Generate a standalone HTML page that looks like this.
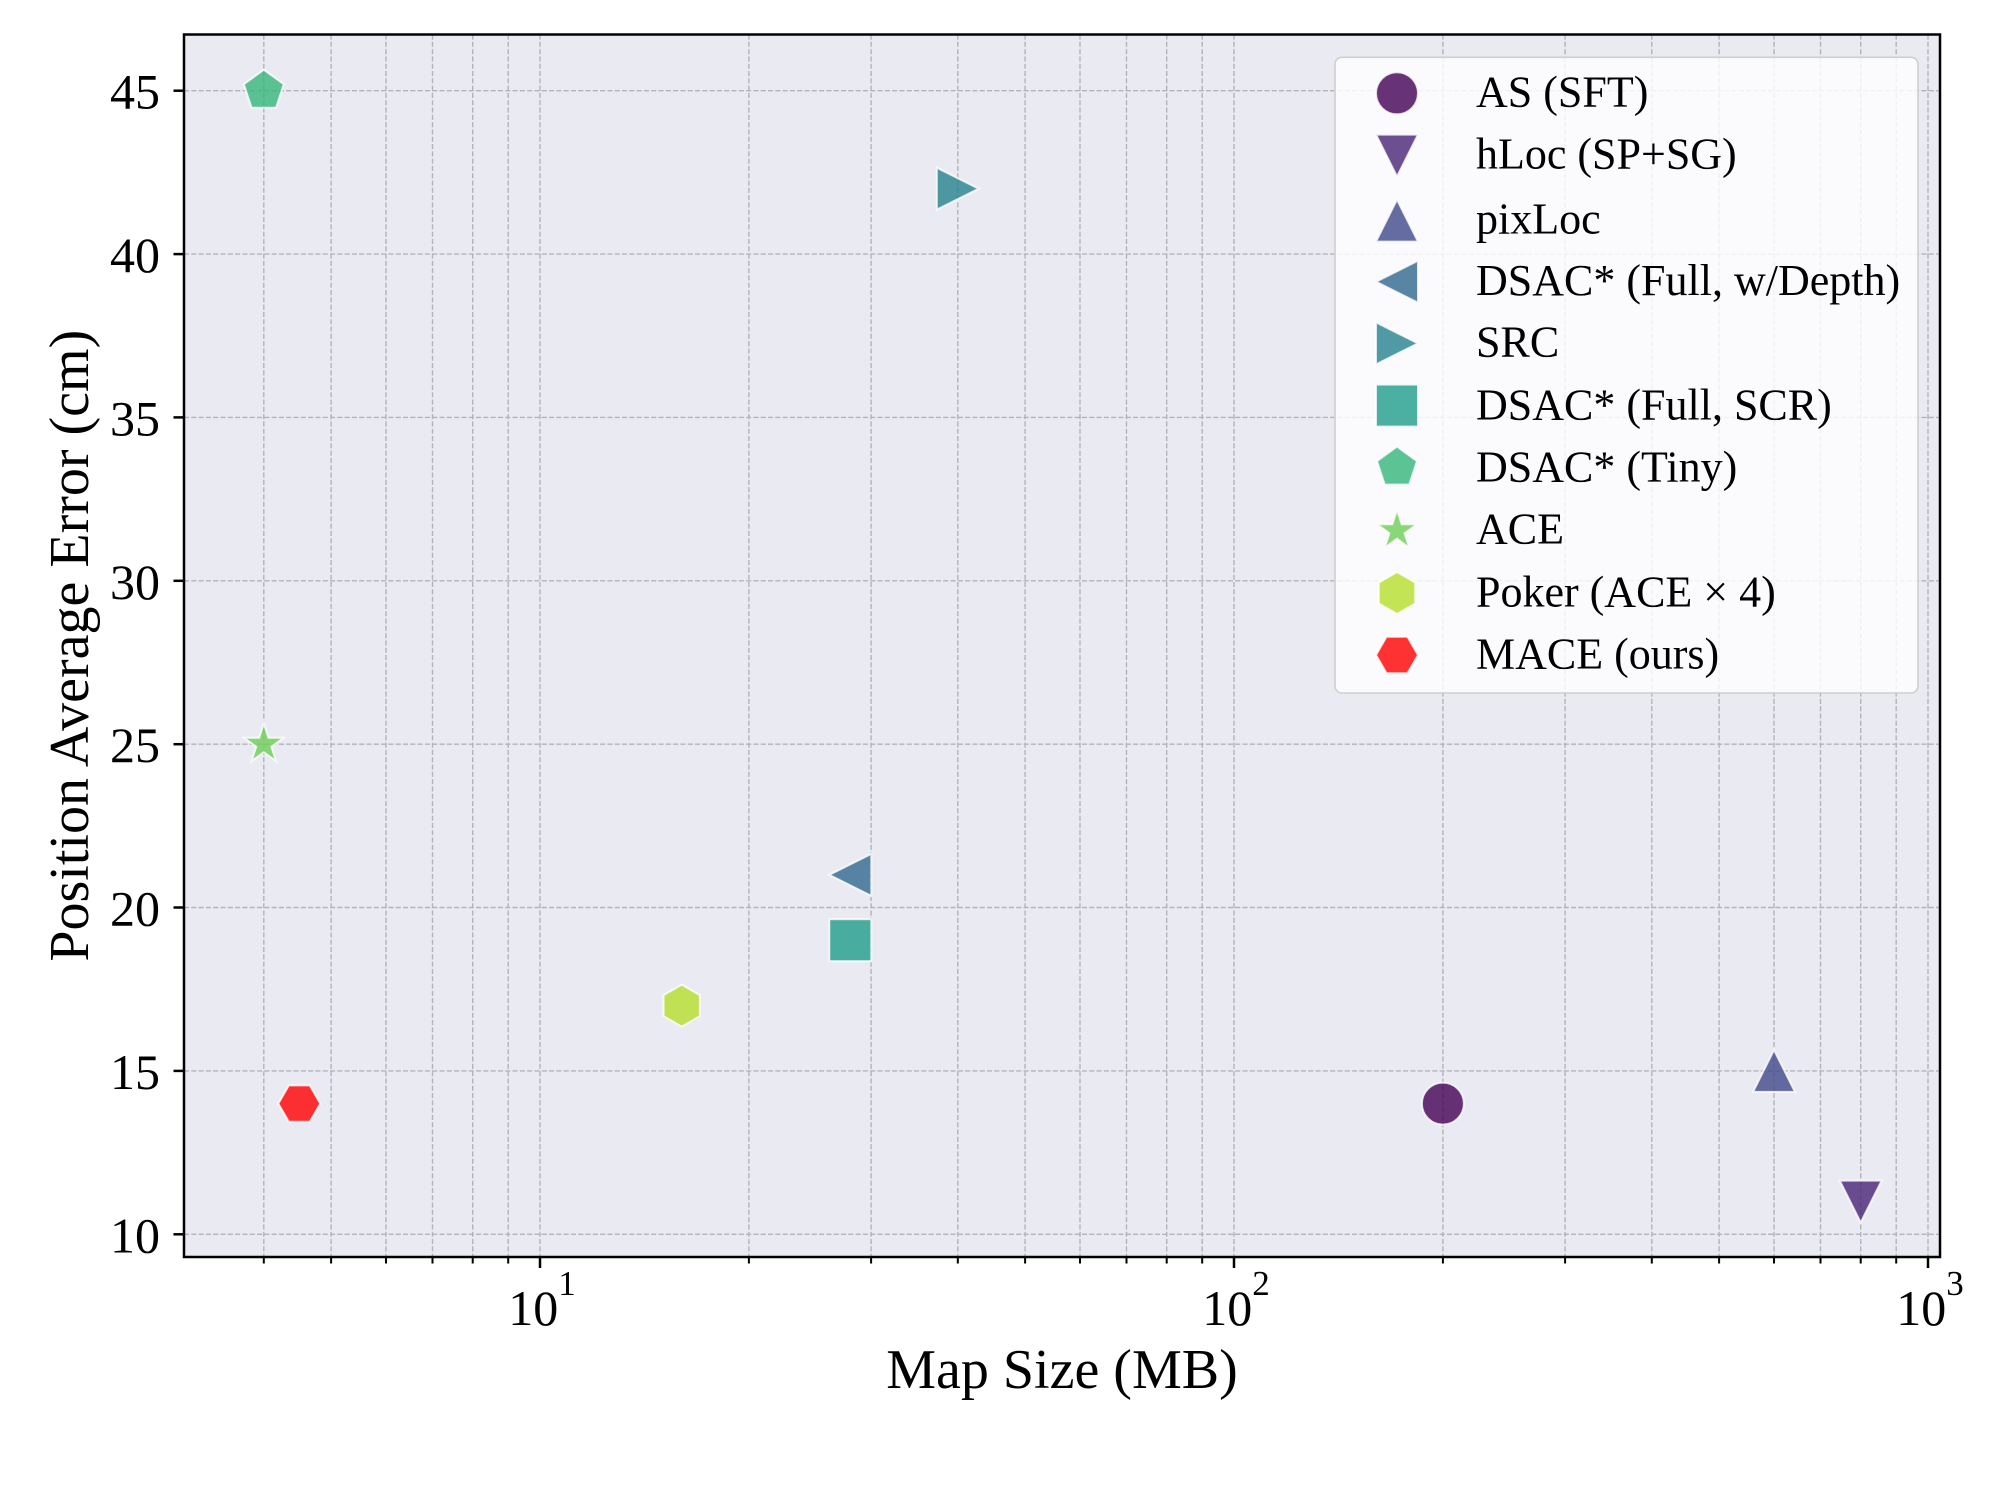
<!DOCTYPE html>
<html>
<head>
<meta charset="utf-8">
<style>
  html, body { margin: 0; padding: 0; background: #ffffff; }
  svg { display: block; }
  text { font-family: "Liberation Serif", "Times New Roman", serif; fill: #000; }
</style>
</head>
<body>
<svg width="2008" height="1508" viewBox="0 0 2008 1508" xmlns="http://www.w3.org/2000/svg">
  <rect x="0" y="0" width="2008" height="1508" fill="#ffffff"/>
  <!-- axes background -->
  <rect x="184" y="34.5" width="1756" height="1222.5" fill="#eaeaf2"/>

  <!-- grid -->
  <g stroke="#b3b3b9" stroke-width="1.4" stroke-dasharray="5.1,2.2" fill="none">
    <!-- horizontal -->
    <line x1="184" x2="1940" y1="90.7" y2="90.7"/>
    <line x1="184" x2="1940" y1="254.1" y2="254.1"/>
    <line x1="184" x2="1940" y1="417.4" y2="417.4"/>
    <line x1="184" x2="1940" y1="580.8" y2="580.8"/>
    <line x1="184" x2="1940" y1="744.2" y2="744.2"/>
    <line x1="184" x2="1940" y1="907.5" y2="907.5"/>
    <line x1="184" x2="1940" y1="1070.9" y2="1070.9"/>
    <line x1="184" x2="1940" y1="1234.3" y2="1234.3"/>
    <!-- vertical -->
    <line y1="34.5" y2="1257" x1="263.8" x2="263.8"/>
    <line y1="34.5" y2="1257" x1="331.1" x2="331.1"/>
    <line y1="34.5" y2="1257" x1="386.0" x2="386.0"/>
    <line y1="34.5" y2="1257" x1="432.5" x2="432.5"/>
    <line y1="34.5" y2="1257" x1="472.7" x2="472.7"/>
    <line y1="34.5" y2="1257" x1="508.2" x2="508.2"/>
    <line y1="34.5" y2="1257" x1="540" x2="540"/>
    <line y1="34.5" y2="1257" x1="748.9" x2="748.9"/>
    <line y1="34.5" y2="1257" x1="871.1" x2="871.1"/>
    <line y1="34.5" y2="1257" x1="957.8" x2="957.8"/>
    <line y1="34.5" y2="1257" x1="1025.1" x2="1025.1"/>
    <line y1="34.5" y2="1257" x1="1080.0" x2="1080.0"/>
    <line y1="34.5" y2="1257" x1="1126.5" x2="1126.5"/>
    <line y1="34.5" y2="1257" x1="1166.7" x2="1166.7"/>
    <line y1="34.5" y2="1257" x1="1202.2" x2="1202.2"/>
    <line y1="34.5" y2="1257" x1="1234" x2="1234"/>
    <line y1="34.5" y2="1257" x1="1442.9" x2="1442.9"/>
    <line y1="34.5" y2="1257" x1="1565.1" x2="1565.1"/>
    <line y1="34.5" y2="1257" x1="1651.8" x2="1651.8"/>
    <line y1="34.5" y2="1257" x1="1719.1" x2="1719.1"/>
    <line y1="34.5" y2="1257" x1="1774.0" x2="1774.0"/>
    <line y1="34.5" y2="1257" x1="1820.5" x2="1820.5"/>
    <line y1="34.5" y2="1257" x1="1860.7" x2="1860.7"/>
    <line y1="34.5" y2="1257" x1="1896.2" x2="1896.2"/>
    <line y1="34.5" y2="1257" x1="1928" x2="1928"/>
  </g>

  <!-- data markers -->
  <g stroke="#ffffff" stroke-width="2" stroke-opacity="0.8" fill-opacity="0.8">
    <!-- AS (SFT) circle (200,14) -->
    <circle cx="1442.9" cy="1103.6" r="21" fill="#440154"/>
    <!-- hLoc v (800,11) -->
    <polygon points="1839.7,1180.6 1881.7,1180.6 1860.7,1222.6" fill="#482475"/>
    <!-- pixLoc ^ (600,15) -->
    <polygon points="1774,1049.9 1753,1091.9 1795,1091.9" fill="#3e4989"/>
    <!-- DSAC depth < (28,21) -->
    <polygon points="829.3,874.9 871.3,853.9 871.3,895.9" fill="#31688e"/>
    <!-- SRC > (40,42) -->
    <polygon points="978.8,188.7 936.8,167.7 936.8,209.7" fill="#26828e"/>
    <!-- DSAC SCR square (28,19) -->
    <rect x="829.3" y="919.2" width="42" height="42" fill="#1f9e89"/>
    <!-- DSAC Tiny pentagon (4,45) -->
    <polygon points="263.8,69.7 283.8,84.2 276.1,107.7 251.5,107.7 243.8,84.2" fill="#35b779"/>
    <!-- ACE star (4,25) -->
    <polygon points="263.8,723.2 268.5,737.7 283.8,737.7 271.4,746.7 276.1,761.2 263.8,752.2 251.5,761.2 256.2,746.7 243.8,737.7 259.1,737.7" fill="#6ece58"/>
    <!-- Poker hexagon h (16,17) -->
    <polygon points="681.7,984.6 699.9,995.1 699.9,1016.1 681.7,1026.6 663.5,1016.1 663.5,995.1" fill="#b5de2b"/>
    <!-- MACE hexagon H (4.5,14) -->
    <polygon points="320.3,1103.6 309.8,1121.8 288.8,1121.8 278.3,1103.6 288.8,1085.4 309.8,1085.4" fill="#ff0000"/>
  </g>

  <!-- spines -->
  <rect x="184" y="34.5" width="1756" height="1222.5" fill="none" stroke="#000" stroke-width="2.5"/>

  <!-- y ticks -->
  <g stroke="#000" stroke-width="2.5">
    <line x1="173.5" x2="184" y1="90.7" y2="90.7"/>
    <line x1="173.5" x2="184" y1="254.1" y2="254.1"/>
    <line x1="173.5" x2="184" y1="417.4" y2="417.4"/>
    <line x1="173.5" x2="184" y1="580.8" y2="580.8"/>
    <line x1="173.5" x2="184" y1="744.2" y2="744.2"/>
    <line x1="173.5" x2="184" y1="907.5" y2="907.5"/>
    <line x1="173.5" x2="184" y1="1070.9" y2="1070.9"/>
    <line x1="173.5" x2="184" y1="1234.3" y2="1234.3"/>
  </g>
  <!-- x major ticks -->
  <g stroke="#000" stroke-width="2.5">
    <line x1="540" x2="540" y1="1257" y2="1268"/>
    <line x1="1234" x2="1234" y1="1257" y2="1268"/>
    <line x1="1928" x2="1928" y1="1257" y2="1268"/>
  </g>
  <!-- x minor ticks -->
  <g stroke="#000" stroke-width="2">
    <line x1="263.8" x2="263.8" y1="1257" y2="1263.5"/>
    <line x1="331.1" x2="331.1" y1="1257" y2="1263.5"/>
    <line x1="386.0" x2="386.0" y1="1257" y2="1263.5"/>
    <line x1="432.5" x2="432.5" y1="1257" y2="1263.5"/>
    <line x1="472.7" x2="472.7" y1="1257" y2="1263.5"/>
    <line x1="508.2" x2="508.2" y1="1257" y2="1263.5"/>
    <line x1="748.9" x2="748.9" y1="1257" y2="1263.5"/>
    <line x1="871.1" x2="871.1" y1="1257" y2="1263.5"/>
    <line x1="957.8" x2="957.8" y1="1257" y2="1263.5"/>
    <line x1="1025.1" x2="1025.1" y1="1257" y2="1263.5"/>
    <line x1="1080.0" x2="1080.0" y1="1257" y2="1263.5"/>
    <line x1="1126.5" x2="1126.5" y1="1257" y2="1263.5"/>
    <line x1="1166.7" x2="1166.7" y1="1257" y2="1263.5"/>
    <line x1="1202.2" x2="1202.2" y1="1257" y2="1263.5"/>
    <line x1="1442.9" x2="1442.9" y1="1257" y2="1263.5"/>
    <line x1="1565.1" x2="1565.1" y1="1257" y2="1263.5"/>
    <line x1="1651.8" x2="1651.8" y1="1257" y2="1263.5"/>
    <line x1="1719.1" x2="1719.1" y1="1257" y2="1263.5"/>
    <line x1="1774.0" x2="1774.0" y1="1257" y2="1263.5"/>
    <line x1="1820.5" x2="1820.5" y1="1257" y2="1263.5"/>
    <line x1="1860.7" x2="1860.7" y1="1257" y2="1263.5"/>
    <line x1="1896.2" x2="1896.2" y1="1257" y2="1263.5"/>
  </g>

  <!-- y tick labels -->
  <g font-size="50" text-anchor="end">
    <text x="160" y="108.7">45</text>
    <text x="160" y="272.1">40</text>
    <text x="160" y="435.4">35</text>
    <text x="160" y="598.8">30</text>
    <text x="160" y="762.2">25</text>
    <text x="160" y="925.5">20</text>
    <text x="160" y="1088.9">15</text>
    <text x="160" y="1252.3">10</text>
  </g>

  <!-- x tick labels -->
  <g font-size="50" text-anchor="middle">
    <text x="542" y="1325">10<tspan dy="-30" font-size="35">1</tspan></text>
    <text x="1236" y="1325">10<tspan dy="-30" font-size="35">2</tspan></text>
    <text x="1930" y="1325">10<tspan dy="-30" font-size="35">3</tspan></text>
  </g>

  <!-- axis labels -->
  <text x="1062" y="1388" font-size="56" text-anchor="middle">Map Size (MB)</text>
  <text transform="translate(88,645.7) rotate(-90)" x="0" y="0" font-size="56" text-anchor="middle">Position Average Error (cm)</text>

  <!-- legend -->
  <rect x="1335" y="57.3" width="583" height="635.7" rx="7" ry="7" fill="#ffffff" fill-opacity="0.8" stroke="#cfcfd2" stroke-width="1.6"/>
  <g stroke="#ffffff" stroke-width="2" stroke-opacity="0.8" fill-opacity="0.8">
    <circle cx="1397" cy="93.3" r="21" fill="#440154"/>
    <polygon points="1376,134.6 1418,134.6 1397,176.6" fill="#482475"/>
    <polygon points="1397,199.6 1376,241.6 1418,241.6" fill="#3e4989"/>
    <polygon points="1376,281.7 1418,260.7 1418,302.7" fill="#31688e"/>
    <polygon points="1418,343.4 1376,322.4 1376,364.4" fill="#26828e"/>
    <rect x="1376" y="384.6" width="42" height="42" fill="#1f9e89"/>
    <polygon points="1397,446.6 1417,461.1 1409.3,484.6 1384.7,484.6 1377,461.1" fill="#35b779"/>
    <polygon points="1397,509.8 1401.7,524.3 1417,524.3 1404.6,533.3 1409.3,547.8 1397,538.8 1384.7,547.8 1389.4,533.3 1377,524.3 1392.3,524.3" fill="#6ece58"/>
    <polygon points="1397,572 1415.2,582.5 1415.2,603.5 1397,614 1378.8,603.5 1378.8,582.5" fill="#b5de2b"/>
    <polygon points="1418,655 1407.5,673.2 1386.5,673.2 1376,655 1386.5,636.8 1407.5,636.8" fill="#ff0000"/>
  </g>
  <g font-size="44">
    <text x="1476" y="106.7">AS (SFT)</text>
    <text x="1476" y="168.5">hLoc (SP+SG)</text>
    <text x="1476" y="233.5">pixLoc</text>
    <text x="1476" y="295.1">DSAC* (Full, w/Depth)</text>
    <text x="1476" y="356.5">SRC</text>
    <text x="1476" y="419.3">DSAC* (Full, SCR)</text>
    <text x="1476" y="481.4">DSAC* (Tiny)</text>
    <text x="1476" y="543.6">ACE</text>
    <text x="1476" y="606.4">Poker (ACE × 4)</text>
    <text x="1476" y="668.6">MACE (ours)</text>
  </g>
</svg>
</body>
</html>
